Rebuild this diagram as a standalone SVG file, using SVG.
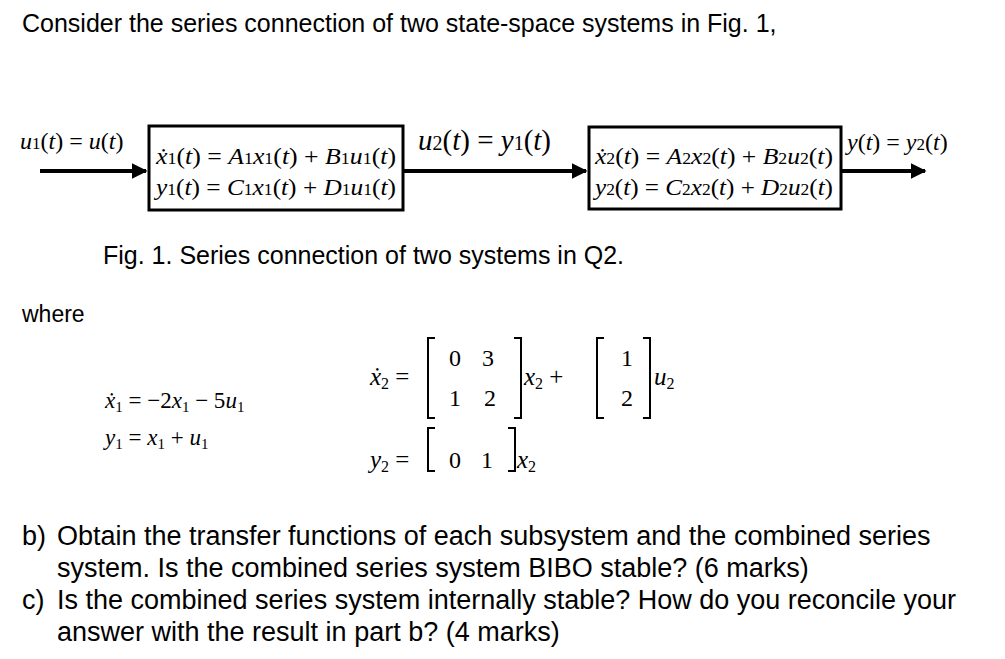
<svg xmlns="http://www.w3.org/2000/svg" width="1005" height="659" viewBox="0 0 1005 659">
<style>
.s{font-family:"Liberation Sans",Arial,sans-serif;font-size:27px;fill:#000}
.m{font-family:"Liberation Serif","Times New Roman",serif;fill:#000}
.i{font-style:italic}
.b{fill:#fff;stroke:#000;stroke-width:3}
.c{stroke:#000;stroke-width:4;fill:none}
.br{stroke:#000;stroke-width:2;fill:none}
</style>
<defs><marker id="ah" viewBox="0 0 10 10" refX="9" refY="5" markerWidth="4" markerHeight="4" orient="auto" markerUnits="strokeWidth"><path d="M0,0 L10,5 L0,10 z" fill="#000"/></marker></defs>
<rect width="1005" height="659" fill="#fff"/>
<text class="s" x="22" y="32" font-size="25" style="font-size:25px">Consider the series connection of two state-space systems in Fig. 1,</text>
<g id="connectors">
<line class="c" x1="40" y1="171" x2="146" y2="171" marker-end="url(#ah)"/>
<line class="c" x1="403" y1="171" x2="586" y2="171" marker-end="url(#ah)"/>
<line class="c" x1="841" y1="171" x2="925" y2="171" marker-end="url(#ah)"/>
</g>
<text class="m" x="20" y="149" font-size="24"><tspan class="i">u</tspan><tspan font-size="17">1</tspan>(<tspan class="i">t</tspan>) = <tspan class="i">u</tspan>(<tspan class="i">t</tspan>)</text>
<text class="m" x="418" y="150" font-size="29"><tspan class="i">u</tspan><tspan font-size="20">2</tspan>(<tspan class="i">t</tspan>) = <tspan class="i">y</tspan><tspan font-size="20">1</tspan>(<tspan class="i">t</tspan>)</text>
<text class="m" x="847" y="150" font-size="24"><tspan class="i">y</tspan>(<tspan class="i">t</tspan>) = <tspan class="i">y</tspan><tspan font-size="17">2</tspan>(<tspan class="i">t</tspan>)</text>
<g id="sys1">
<rect class="b" x="149" y="126" width="254" height="84"/>
<text class="m" x="156" y="164" font-size="23" textLength="240" lengthAdjust="spacingAndGlyphs"><tspan class="i">ẋ</tspan><tspan font-size="16">1</tspan>(<tspan class="i">t</tspan>) = <tspan class="i">A</tspan><tspan font-size="16">1</tspan><tspan class="i">x</tspan><tspan font-size="16">1</tspan>(<tspan class="i">t</tspan>) + <tspan class="i">B</tspan><tspan font-size="16">1</tspan><tspan class="i">u</tspan><tspan font-size="16">1</tspan>(<tspan class="i">t</tspan>)</text>
<text class="m" x="156" y="195" font-size="23" textLength="240" lengthAdjust="spacingAndGlyphs"><tspan class="i">y</tspan><tspan font-size="16">1</tspan>(<tspan class="i">t</tspan>) = <tspan class="i">C</tspan><tspan font-size="16">1</tspan><tspan class="i">x</tspan><tspan font-size="16">1</tspan>(<tspan class="i">t</tspan>) + <tspan class="i">D</tspan><tspan font-size="16">1</tspan><tspan class="i">u</tspan><tspan font-size="16">1</tspan>(<tspan class="i">t</tspan>)</text>
</g>
<g id="sys2">
<rect class="b" x="589" y="127" width="252" height="82"/>
<text class="m" x="595" y="164" font-size="23" textLength="238" lengthAdjust="spacingAndGlyphs"><tspan class="i">ẋ</tspan><tspan font-size="16">2</tspan>(<tspan class="i">t</tspan>) = <tspan class="i">A</tspan><tspan font-size="16">2</tspan><tspan class="i">x</tspan><tspan font-size="16">2</tspan>(<tspan class="i">t</tspan>) + <tspan class="i">B</tspan><tspan font-size="16">2</tspan><tspan class="i">u</tspan><tspan font-size="16">2</tspan>(<tspan class="i">t</tspan>)</text>
<text class="m" x="595" y="195" font-size="23" textLength="238" lengthAdjust="spacingAndGlyphs"><tspan class="i">y</tspan><tspan font-size="16">2</tspan>(<tspan class="i">t</tspan>) = <tspan class="i">C</tspan><tspan font-size="16">2</tspan><tspan class="i">x</tspan><tspan font-size="16">2</tspan>(<tspan class="i">t</tspan>) + <tspan class="i">D</tspan><tspan font-size="16">2</tspan><tspan class="i">u</tspan><tspan font-size="16">2</tspan>(<tspan class="i">t</tspan>)</text>
</g>
<text class="s" x="103" y="264" style="font-size:25px">Fig. 1. Series connection of two systems in Q2.</text>
<text class="s" x="22" y="322" style="font-size:23px">where</text>
<text class="m" x="105" y="408" font-size="23"><tspan class="i">ẋ</tspan><tspan font-size="15" dy="4">1</tspan><tspan dy="-4"> = −2</tspan><tspan class="i">x</tspan><tspan font-size="15" dy="4">1</tspan><tspan dy="-4"> − 5</tspan><tspan class="i">u</tspan><tspan font-size="15" dy="4">1</tspan></text>
<text class="m" x="105" y="445" font-size="23"><tspan class="i">y</tspan><tspan font-size="15" dy="4">1</tspan><tspan dy="-4"> = </tspan><tspan class="i">x</tspan><tspan font-size="15" dy="4">1</tspan><tspan dy="-4"> + </tspan><tspan class="i">u</tspan><tspan font-size="15" dy="4">1</tspan></text>
<text class="m" x="370" y="385" font-size="25"><tspan class="i">ẋ</tspan><tspan font-size="16" dy="4">2</tspan><tspan dy="-4"> =</tspan></text>
<path class="br" d="M435,338 H428 V418 H435 M514,338 H521 V418 H514 M604,338 H597 V418 H604 M643,338 H650 V418 H643"/>
<text class="m" x="455" y="366" font-size="24" text-anchor="middle">0</text>
<text class="m" x="488" y="366" font-size="24" text-anchor="middle">3</text>
<text class="m" x="455" y="406" font-size="24" text-anchor="middle">1</text>
<text class="m" x="490" y="406" font-size="24" text-anchor="middle">2</text>
<text class="m" x="627" y="366" font-size="24" text-anchor="middle">1</text>
<text class="m" x="627" y="406" font-size="24" text-anchor="middle">2</text>
<text class="m" x="524" y="385" font-size="25"><tspan class="i">x</tspan><tspan font-size="16" dy="4">2</tspan><tspan dy="-4"> +</tspan></text>
<text class="m" x="654" y="385" font-size="25"><tspan class="i">u</tspan><tspan font-size="16" dy="4">2</tspan></text>
<text class="m" x="370" y="468" font-size="25"><tspan class="i">y</tspan><tspan font-size="16" dy="4">2</tspan><tspan dy="-4"> =</tspan></text>
<path class="br" d="M435,428 H428 V471 H435 M508,428 H515 V471 H508"/>
<text class="m" x="455" y="468" font-size="24" text-anchor="middle">0</text>
<text class="m" x="487" y="468" font-size="24" text-anchor="middle">1</text>
<text class="m" x="517" y="468" font-size="25"><tspan class="i">x</tspan><tspan font-size="16" dy="4">2</tspan></text>
<text class="s" x="22" y="545">b)</text>
<text class="s" x="57" y="545">Obtain the transfer functions of each subsystem and the combined series</text>
<text class="s" x="57" y="577">system. Is the combined series system BIBO stable? (6 marks)</text>
<text class="s" x="22" y="609">c)</text>
<text class="s" x="57" y="609">Is the combined series system internally stable? How do you reconcile your</text>
<text class="s" x="57" y="641">answer with the result in part b? (4 marks)</text>
</svg>
